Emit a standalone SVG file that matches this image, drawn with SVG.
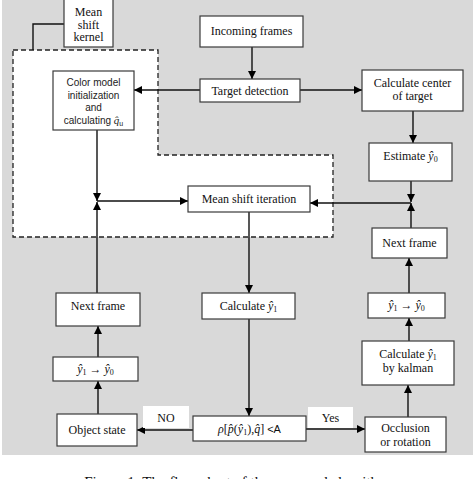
<svg xmlns="http://www.w3.org/2000/svg" width="474" height="479" viewBox="0 0 474 479">
<defs>
<marker id="ah" viewBox="0 0 10 10" refX="10" refY="5" markerWidth="8" markerHeight="8" markerUnits="userSpaceOnUse" orient="auto">
<path d="M0,0 L10,5 L0,10 Z" fill="#000"/>
</marker>
<style>
.box{fill:#fff;stroke:#3a3a3a;stroke-width:1.2}
.t{font-family:"Liberation Serif","Times New Roman",serif;font-size:12px;fill:#111;text-anchor:middle}
.s{font-family:"Liberation Sans",Arial,sans-serif;font-size:10px;fill:#222;text-anchor:middle}
.c{fill:none;stroke:#111;stroke-width:1.4}
.ca{fill:none;stroke:#111;stroke-width:1.4;marker-end:url(#ah)}
.i{font-style:italic}
</style>
</defs>
<rect x="0" y="0" width="474" height="479" fill="#fff"/>
<rect x="2" y="0" width="471" height="455" fill="#d9d9d9"/>
<polygon points="13,50 158,50 158,155 333,155 333,237 13,237" fill="#fff" stroke="#222" stroke-width="1.3" stroke-dasharray="5,3"/>

<g id="connectors">
<polyline class="c" points="64,24 33,24 33,50" stroke="#444"/>
<line class="ca" x1="252" y1="47" x2="252" y2="79"/>
<line class="ca" x1="200" y1="90" x2="134" y2="90"/>
<line class="ca" x1="300" y1="90" x2="362" y2="90"/>
<line class="ca" x1="413" y1="111" x2="413" y2="143"/>
<line class="ca" x1="97" y1="130" x2="97" y2="201"/>
<line class="ca" x1="97" y1="293" x2="97" y2="202"/>
<line class="ca" x1="97" y1="201" x2="188" y2="201"/>
<line class="ca" x1="411" y1="181" x2="411" y2="202"/>
<line class="ca" x1="411" y1="228" x2="411" y2="203"/>
<line class="ca" x1="411" y1="203" x2="310" y2="203"/>
<line class="ca" x1="249" y1="212" x2="249" y2="293"/>
<line class="ca" x1="249" y1="319" x2="249" y2="416"/>
<line class="ca" x1="306" y1="429" x2="365" y2="429"/>
<line class="ca" x1="193" y1="430" x2="137" y2="430"/>
<line class="ca" x1="98" y1="414" x2="98" y2="381"/>
<line class="ca" x1="98" y1="357" x2="98" y2="326"/>
<line class="ca" x1="408" y1="417" x2="408" y2="385"/>
<line class="ca" x1="409" y1="341" x2="409" y2="318"/>
<line class="ca" x1="409" y1="293" x2="409" y2="258"/>
</g>

<g id="kernel"><rect class="box" x="64" y="-2" width="49" height="49"/>
<text class="t" x="88.5" y="16" font-size="11">Mean</text><text class="t" x="88.5" y="29" font-size="11">shift</text><text class="t" x="88.5" y="41" font-size="11">kernel</text></g>

<g id="incoming"><rect class="box" x="200" y="16" width="103" height="31"/><text class="t" x="251.5" y="35">Incoming frames</text></g>

<g id="target"><rect class="box" x="200" y="79" width="100" height="23"/><text class="t" x="250" y="95">Target detection</text></g>

<g id="colormodel"><rect class="box" x="53" y="71" width="81" height="59"/>
<text class="s" x="93.5" y="86">Color model</text>
<text class="s" x="93.5" y="98.5">initialization</text>
<text class="s" x="93.5" y="111">and</text>
<text class="s" x="93.5" y="123.5">calculating <tspan class="i" font-family="'Liberation Serif',serif" font-size="11">q̂</tspan><tspan font-size="7" dy="2">u</tspan></text></g>

<g id="center"><rect class="box" x="362" y="70" width="101" height="41"/>
<text class="t" x="412.5" y="87">Calculate center</text><text class="t" x="412.5" y="100">of target</text></g>

<g id="estimate"><rect class="box" x="369" y="143" width="83" height="38"/>
<text class="t" x="410.5" y="160">Estimate <tspan class="i">ŷ</tspan><tspan font-size="8" dy="2">0</tspan></text></g>

<g id="meanshift"><rect class="box" x="188" y="186" width="122" height="26"/><text class="t" x="249" y="203">Mean shift iteration</text></g>

<g id="nextright"><rect class="box" x="372" y="228" width="75" height="30"/><text class="t" x="409.5" y="247">Next frame</text></g>

<g id="y1y0right"><rect class="box" x="368" y="293" width="77" height="25"/>
<text class="t" x="406.5" y="309"><tspan class="i">ŷ</tspan><tspan font-size="8" dy="2">1</tspan><tspan dy="-2">  →  </tspan><tspan class="i">ŷ</tspan><tspan font-size="8" dy="2">0</tspan></text></g>

<g id="kalman"><rect class="box" x="362" y="341" width="92" height="44"/>
<text class="t" x="408" y="358">Calculate <tspan class="i">ŷ</tspan><tspan font-size="8" dy="2">1</tspan></text>
<text class="t" x="408" y="372">by kalman</text></g>

<g id="occlusion"><rect class="box" x="365" y="417" width="81" height="35"/>
<text class="t" x="405.5" y="432">Occlusion</text><text class="t" x="405.5" y="446">or rotation</text></g>

<g id="calcy1"><rect class="box" x="202" y="293" width="93" height="26"/>
<text class="t" x="248.5" y="310">Calculate <tspan class="i">ŷ</tspan><tspan font-size="8" dy="2">1</tspan></text></g>

<g id="rho"><rect class="box" x="193" y="416" width="113" height="25"/>
<text class="t" x="249.5" y="433"><tspan class="i">ρ</tspan>[<tspan class="i">p̂</tspan>(<tspan class="i">ŷ</tspan><tspan font-size="8" dy="2">1</tspan><tspan dy="-2">),</tspan><tspan class="i">q̂</tspan>] <tspan font-family="'Liberation Sans',Arial,sans-serif" font-size="11">&lt;A</tspan></text></g>

<g id="yes"><rect x="308" y="407" width="45" height="21" fill="#fff"/><text class="t" x="330.5" y="422">Yes</text></g>

<g id="no"><rect x="143" y="406" width="46" height="22" fill="#fff"/><text class="t" x="166" y="422">NO</text></g>

<g id="objstate"><rect class="box" x="57" y="414" width="80" height="32"/><text class="t" x="97" y="434">Object state</text></g>

<g id="y1y0left"><rect class="box" x="53" y="357" width="85" height="24"/>
<text class="t" x="95.5" y="373"><tspan class="i">ŷ</tspan><tspan font-size="8" dy="2">1</tspan><tspan dy="-2">  →  </tspan><tspan class="i">ŷ</tspan><tspan font-size="8" dy="2">0</tspan></text></g>

<g id="nextleft"><rect class="box" x="56" y="293" width="84" height="33"/><text class="t" x="98" y="310">Next frame</text></g>

<text x="237" y="487" font-family="'Liberation Serif','Times New Roman',serif" font-size="15" fill="#111" text-anchor="middle">Figure 1: The flow chart of the proposed algorithm</text>
</svg>
